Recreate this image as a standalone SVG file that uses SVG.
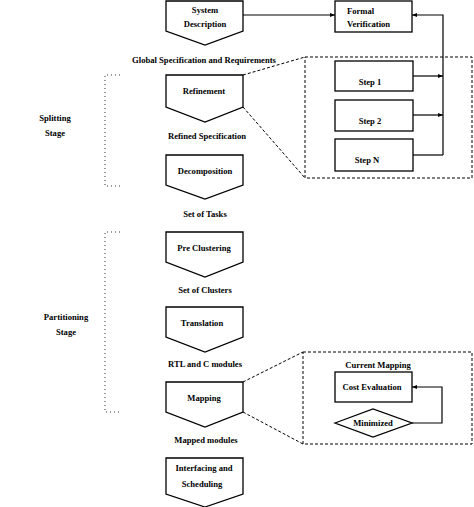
<svg xmlns="http://www.w3.org/2000/svg" width="474" height="507" viewBox="0 0 474 507">
<defs>
<marker id="arr" viewBox="0 0 10 10" refX="10" refY="5" markerWidth="5" markerHeight="5" orient="auto-start-reverse" markerUnits="userSpaceOnUse">
<path d="M0,1 L10,5 L0,9 Z" fill="#000"/>
</marker>
<style>
.n{fill:#fff;stroke:#000;stroke-width:1.3}
.t{font-family:"Liberation Serif","Times New Roman",serif;font-size:8.6px;font-weight:bold;fill:#000}
.c{text-anchor:middle}
.l{fill:none;stroke:#000;stroke-width:1.2}
.d{fill:none;stroke:#000;stroke-width:1;stroke-dasharray:3,2}
.dot{fill:none;stroke:#000;stroke-width:0.8;stroke-dasharray:1,3}
</style>
</defs>
<rect width="474" height="507" fill="#fff"/>

<g id="splitting-stage">
<path class="dot" d="M120,75 H105 V186 H120"/>
<text class="t c" x="55" y="121">Splitting</text>
<text class="t c" x="55" y="136">Stage</text>
</g>
<g id="partitioning-stage">
<path class="dot" d="M120,232 H105 V412 H120"/>
<text class="t c" x="66" y="320">Partitioning</text>
<text class="t c" x="66" y="335">Stage</text>
</g>

<g id="system-description">
<polygon class="n" points="166,1 243,1 243,31 205,45 166,31"/>
<text class="t c" x="205" y="13">System</text>
<text class="t c" x="205" y="27">Description</text>
</g>
<text class="t c" x="204" y="63">Global Specification and Requirements</text>

<g id="refinement">
<polygon class="n" points="166,75 243,75 243,107 205,122 166,107"/>
<text class="t c" x="204" y="94">Refinement</text>
</g>
<text class="t c" x="207" y="139">Refined Specification</text>

<g id="decomposition">
<polygon class="n" points="166,155 243,155 243,185 205,199 166,185"/>
<text class="t c" x="205" y="174">Decomposition</text>
</g>
<text class="t c" x="205" y="217">Set of Tasks</text>

<g id="pre-clustering">
<polygon class="n" points="166,232 243,232 243,262 205,277 166,262"/>
<text class="t c" x="204" y="251">Pre Clustering</text>
</g>
<text class="t c" x="205" y="293">Set of Clusters</text>

<g id="translation">
<polygon class="n" points="166,307 243,307 243,337 205,352 166,337"/>
<text class="t c" x="202" y="326">Translation</text>
</g>
<text class="t c" x="205" y="367">RTL and C modules</text>

<g id="mapping">
<polygon class="n" points="166,382 243,382 243,412 205,427 166,412"/>
<text class="t c" x="204" y="401">Mapping</text>
</g>
<text class="t c" x="206" y="443">Mapped modules</text>

<g id="interfacing">
<polygon class="n" points="166,458 243,458 243,494 205,507 166,494"/>
<text class="t c" x="204" y="471">Interfacing and</text>
<text class="t c" x="202" y="487">Scheduling</text>
</g>

<g id="formal-verification">
<rect class="n" x="335" y="1" width="77" height="31"/>
<text class="t" x="347" y="14">Formal</text>
<text class="t" x="347" y="27">Verification</text>
</g>

<g id="refinement-steps">
<rect class="d" x="305" y="57" width="167" height="121"/>
</g>
<g id="step-1">
<rect class="n" x="335" y="61" width="78" height="30"/>
<text class="t c" x="370" y="85">Step 1</text>
</g>
<g id="step-2">
<rect class="n" x="335" y="100" width="78" height="31"/>
<text class="t c" x="370" y="124">Step 2</text>
</g>
<g id="step-n">
<rect class="n" x="335" y="139" width="78" height="32"/>
<text class="t c" x="367" y="163">Step N</text>
</g>

<g id="mapping-detail">
<rect class="d" x="303" y="352" width="169" height="92"/>
<text class="t c" x="378" y="368">Current Mapping</text>
</g>
<g id="cost-evaluation">
<rect class="n" x="335" y="372" width="77" height="30"/>
<text class="t c" x="372" y="390">Cost Evaluation</text>
</g>
<g id="minimized">
<polygon class="n" points="335,423 373,409 412,423 373,437"/>
<text class="t c" x="373" y="426">Minimized</text>
</g>

<g id="connectors">
<line class="l" x1="243" y1="15" x2="335" y2="15" marker-end="url(#arr)"/>
<path class="l" d="M443,155 V15 H412" marker-end="url(#arr)"/>
<line class="l" x1="413" y1="76" x2="443" y2="76" marker-end="url(#arr)"/>
<line class="l" x1="413" y1="115" x2="443" y2="115" marker-end="url(#arr)"/>
<line class="l" x1="413" y1="155" x2="443" y2="155"/>
<path class="l" d="M412,423 H442 V387 H412" marker-end="url(#arr)"/>
<line class="d" x1="243" y1="75" x2="305" y2="57"/>
<line class="d" x1="243" y1="107" x2="305" y2="178"/>
<line class="d" x1="243" y1="382" x2="303" y2="352"/>
<line class="d" x1="243" y1="412" x2="303" y2="444"/>
</g>
</svg>
